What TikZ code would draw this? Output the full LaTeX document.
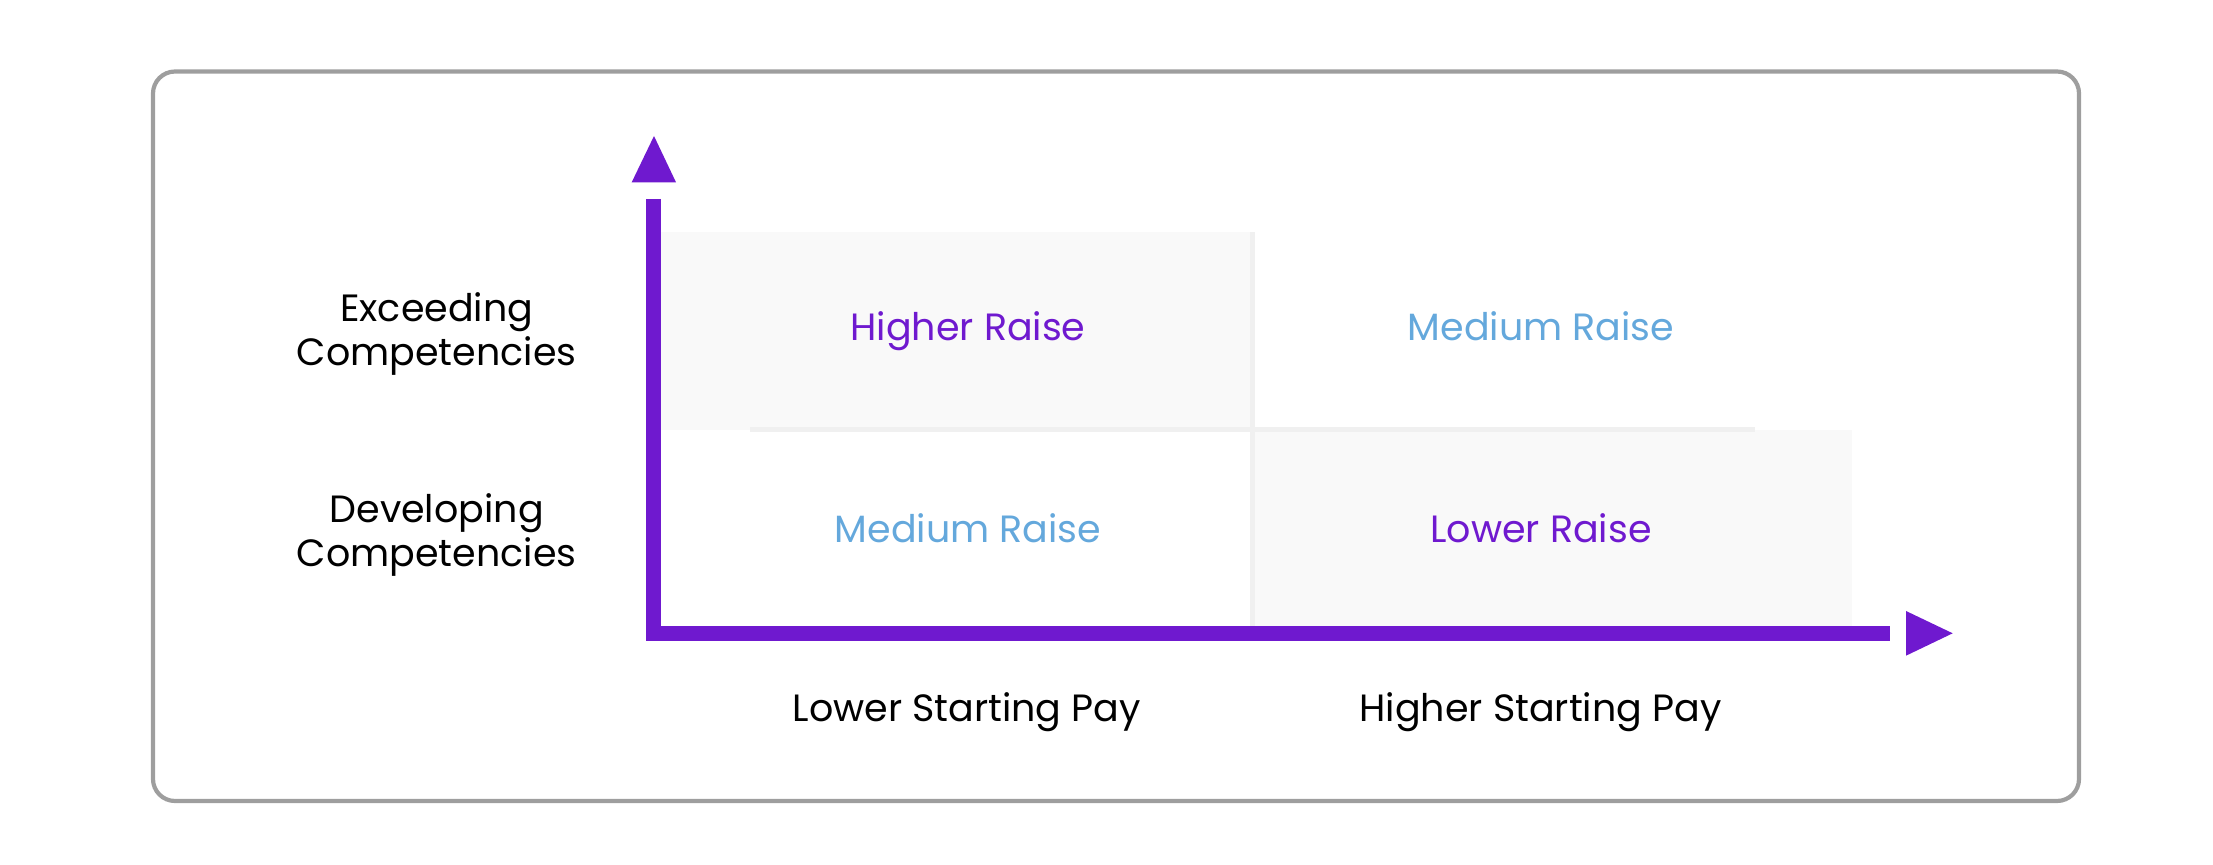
\documentclass[tikz,border=0pt]{standalone}
\usepackage{fontspec}
\setmainfont{Poppins}
\definecolor{axispurple}{RGB}{111,25,207}
\definecolor{mediumblue}{RGB}{100,168,220}
\definecolor{cellgray}{RGB}{249,249,249}
\definecolor{gridgray}{RGB}{240,240,240}
\definecolor{framegray}{RGB}{158,158,158}

\begin{document}
\begin{tikzpicture}[
			x=0.5pt, y=-0.5pt,
			every node/.style={inner sep=0pt, font=\fontsize{19}{22.25}\selectfont},
			outcome/.style={anchor=base},
			strong/.style={outcome, text=axispurple},
			mild/.style={outcome, text=mediumblue},
			axistext/.style={anchor=base, align=center, text=black},
			cell/.style={fill=cellgray},
			divider/.style={draw=gridgray, line width=2.25pt},
			axisline/.style={draw=axispurple, line width=7.35pt, line join=miter},
			arrowhead/.style={fill=axispurple}
			]
			\useasboundingbox (0,0) rectangle (2213,865);
			\draw[framegray, line width=2.1pt, rounded corners=11pt] (153,71.5) rectangle (2079,801);
			% shaded cells and grid
			\fill[cell] (661,232) rectangle (1252,430);
			\fill[cell] (1254,430) rectangle (1852,626);
			\draw[divider] (750,429.5) -- (1755,429.5);
			\draw[divider] (1252.3,232) -- (1252.3,626);
			% axes
			\coordinate (ytop) at (653.7,199);
			\coordinate (origin) at (653.7,633.3);
			\coordinate (xend) at (1890,633.3);
			\draw[axisline] (ytop) -- (origin) -- (xend);
			\fill[arrowhead] (631.7,182.3) -- (654,136) -- (676,182.3) -- cycle;
			\fill[arrowhead] (1906,611) -- (1952.7,633.3) -- (1906,655.7) -- cycle;
			% labels
			\node[strong] (high) at (968,340.7) {Higher Raise};
			\node[mild] (medtop) at (1541,340.7) {Medium Raise};
			\node[mild] (medlow) at (968,543) {Medium Raise};
			\node[strong] (low) at (1541,542.5) {Lower Raise};
			\node[axistext] (exceed) at (436.7,366) {Exceeding\\Competencies};
			\node[axistext] (develop) at (436.7,566.7) {Developing\\Competencies};
			\node[axistext] (lowpay) at (966.7,721.7) {Lower Starting Pay};
			\node[axistext] (highpay) at (1540.5,721.7) {Higher Starting Pay};
		\end{tikzpicture}
\end{document}
